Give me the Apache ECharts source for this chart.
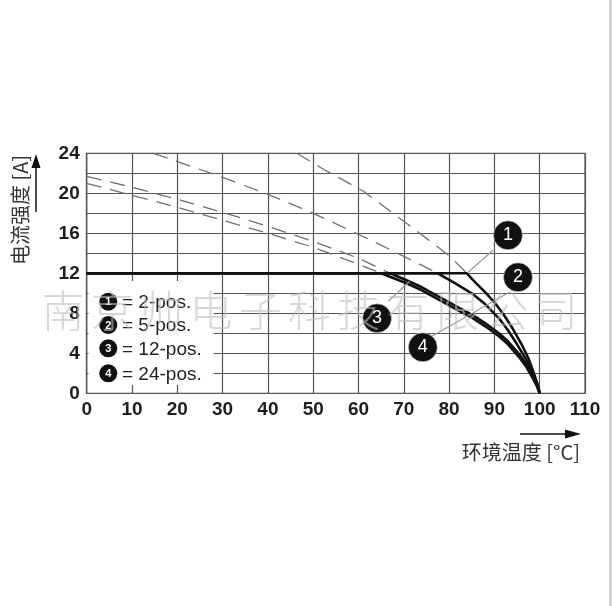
<!DOCTYPE html>
<html><head><meta charset="utf-8">
<script src="https://cdn.jsdelivr.net/npm/echarts@6/dist/echarts.min.js"></script>
<style>html,body{margin:0;padding:0;background:#fff}#c{width:612px;height:606px}</style>
</head><body><div id="c"></div>
<script>
// ---- data ----
const xMin = 0, xMax = 110, xStep = 10;
const yMin = 0, yMax = 24, yStep = 2, yLabelStep = 4;
const xName = '环境温度 [°C]';
const yName = '电流强度 [A]';
const seriesNames = ['2-pos.', '5-pos.', '12-pos.', '24-pos.'];
const legendLabels = ['= 2-pos.', '= 5-pos.', '= 12-pos.', '= 24-pos.'];
const calloutLabels = ['1', '2', '3', '4'];

// dashed (unlimited) parts of the derating curves
const dash1 = [[46.4,24],[51.9,22.5],[61.1,20.2],[70.6,17.0],[80.2,13.7],[83.9,12]];
const dash2 = [[14.7,24],[30,21.6],[40,19.9],[50,18.0],[60,15.9],[70,13.7],[77.5,12]];
const dash3 = [[0,21.7],[10,20.6],[20,19.4],[30,18.1],[40,16.7],[50,15.2],[60,13.5],[67,12]];
const dash4 = [[0,21.0],[10,19.8],[20,18.6],[30,17.3],[40,16.0],[50,14.6],[60,12.9],[65,12]];

// solid (limited to 12 A) derating curves
const solid1 = [[0,12],[83.9,12],[86,11.0],[88,10.1],[90,9.1],[92,7.9],[94,6.5],[96,4.9],[97.5,3.5],[98.8,1.9],[99.6,0.8],[100,0]];
const solid2 = [[0,12],[77.5,12],[81,11.1],[85,10.0],[88,8.9],[91,7.5],[93,6.3],[95,4.9],[97,3.4],[98.5,2.0],[99.5,0.9],[100,0]];
const solid3 = [[0,12],[67,12],[70.6,11.3],[74,10.6],[78,9.6],[82,8.6],[85.3,7.8],[88,7.0],[91,6.0],[93,5.2],[95.5,3.9],[97.1,2.9],[98.5,1.7],[99.4,0.8],[100,0]];
const solid4 = [[0,12],[65,12],[70.6,11.0],[74,10.3],[78,9.3],[82,8.3],[85.3,7.5],[88,6.7],[91,5.7],[93,4.9],[95.5,3.6],[97.1,2.6],[98.5,1.5],[99.4,0.7],[100,0]];

// callout circles (data coords) and leader lines
const calloutPos = [[93.0,15.8],[95.2,11.6],[64.1,7.5],[74.2,4.6]];
const leaders = [
  [[89.7,14.3],[84.2,12.1]],
  [[93.3,10.1],[76.2,5.7]],
  [[66.6,9.2],[71.3,11.2]]
];
const watermark = '南京帅电子科技有限公司';

// ---- chart ----
const chart = echarts.init(document.getElementById('c'), null, {renderer:'canvas'});
const G = {left:86.7, top:153.3, right:27, bottom:212.7};
const gridColor = '#555';
const numFont = '"Liberation Sans", Arial, sans-serif';
const cjkFont = '"Noto Sans CJK SC", sans-serif';

const series = [];
[dash1,dash2,dash3,dash4].forEach((d,i)=>series.push({
  name: seriesNames[i]+' dashed', type:'line', data:d, symbol:'none', silent:true, z:2,
  lineStyle:{color:'#707070', width:1.3, type:[15,9]}
}));
[solid1,solid2,solid3,solid4].forEach((d,i)=>series.push({
  name: seriesNames[i], type:'line', data:d, symbol:'none', silent:true, z:3,
  lineStyle:{color:'#111', width:2.6, join:'round'}
}));
leaders.forEach(d=>series.push({
  type:'line', data:d, symbol:'none', silent:true, z:4,
  lineStyle:{color:'#999', width:1.2}
}));
series.push({
  type:'scatter', z:5, symbol:'circle', symbolSize:29, silent:true,
  itemStyle:{color:'#111', opacity:1, borderColor:'#fff', borderWidth:0.5},
  label:{show:true, position:'inside', color:'#fff', fontSize:18, fontFamily:numFont, formatter:p=>p.name},
  data: calloutPos.map((p,i)=>({name:calloutLabels[i], value:p}))
});

const graphic = [];
// legend box
graphic.push({type:'rect', z:1, shape:{x:88.5, y:281, width:125, height:104}, style:{fill:'#fff'}});
const legY = [301.7, 325, 348.3, 373.3];
legendLabels.forEach((t,i)=>{
  graphic.push({type:'circle', z:10, shape:{cx:108.3, cy:legY[i], r:9}, style:{fill:'#111'}});
  graphic.push({type:'text', z:11, x:108.3, y:legY[i]+0.5, style:{text:calloutLabels[i], fill:'#fff', font:'bold 11px '+numFont, align:'center', verticalAlign:'middle', textAlign:'center', textVerticalAlign:'middle'}});
  graphic.push({type:'text', z:11, x:122, y:legY[i]+1, style:{text:t, fill:'#222', font:'19px '+numFont, align:'left', verticalAlign:'middle', textAlign:'left', textVerticalAlign:'middle'}});
});
// axis names and arrows
graphic.push({type:'text', z:10, x:20, y:210, rotation:Math.PI/2, style:{text:yName, fill:'#333', font:'20px '+cjkFont, align:'center', verticalAlign:'middle', textAlign:'center', textVerticalAlign:'middle'}});
graphic.push({type:'line', z:10, shape:{x1:36, y1:212, x2:36, y2:166}, style:{stroke:'#111', lineWidth:1.5}});
graphic.push({type:'polygon', z:10, shape:{points:[[36,154],[31.5,168],[40.5,168]]}, style:{fill:'#111'}});
graphic.push({type:'text', z:10, x:580, y:452, style:{text:xName, fill:'#333', font:'20px '+cjkFont, align:'right', verticalAlign:'middle', textAlign:'right', textVerticalAlign:'middle'}});
graphic.push({type:'line', z:10, shape:{x1:520, y1:434, x2:568, y2:434}, style:{stroke:'#111', lineWidth:1.5}});
graphic.push({type:'polygon', z:10, shape:{points:[[581,434],[565,429.5],[565,438.5]]}, style:{fill:'#111'}});
// right edge strip
graphic.push({type:'rect', z:10, shape:{x:609, y:0, width:3, height:606}, style:{fill:'#d2d2d2'}});
// watermark
Array.from(watermark).forEach((ch,i)=>{
  graphic.push({type:'text', z:100, x:63+i*49.3, y:311, style:{text:ch, fill:'rgba(190,190,190,0.6)', font:'300 43px '+cjkFont, align:'center', verticalAlign:'middle', textAlign:'center', textVerticalAlign:'middle'}});
});

chart.setOption({
  animation:false,
  backgroundColor:'#fff',
  grid:{left:G.left, top:G.top, right:G.right, bottom:G.bottom, show:true, borderColor:gridColor, borderWidth:1.2, backgroundColor:'transparent'},
  xAxis:{type:'value', min:xMin, max:xMax, interval:xStep,
    axisLine:{show:true, lineStyle:{color:gridColor, width:1.2}}, axisTick:{show:false},
    splitLine:{show:true, lineStyle:{color:gridColor, width:1.2}},
    axisLabel:{color:'#1e1e1e', fontSize:19, fontWeight:'bold', fontFamily:numFont, margin:7}},
  yAxis:{type:'value', min:yMin, max:yMax, interval:yStep,
    axisLine:{show:true, lineStyle:{color:gridColor, width:1.2}}, axisTick:{show:false},
    splitLine:{show:true, lineStyle:{color:gridColor, width:1.2}},
    axisLabel:{color:'#1e1e1e', fontSize:19, fontWeight:'bold', fontFamily:numFont, margin:7,
      formatter:v=>(v % yLabelStep === 0 ? String(v) : '')}},
  graphic: graphic,
  series: series
});
</script></body></html>
